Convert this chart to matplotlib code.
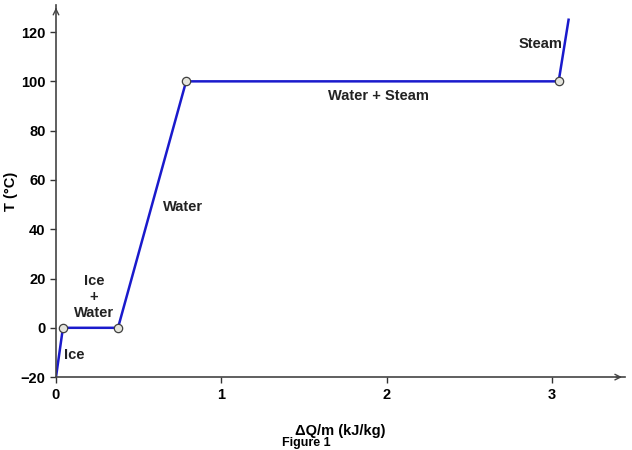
import matplotlib
matplotlib.use("Agg")
import matplotlib.pyplot as plt

# heating curve data
q = [0.0, 0.042, 0.375, 0.787, 3.04, 3.10]
temp = [-20, 0, 0, 100, 100, 125]
corner_q = [0.042, 0.375, 0.787, 3.04]
corner_t = [0, 0, 100, 100]

labels = ["Ice", "Ice\n+\nWater", "Water", "Water + Steam", "Steam"]
label_q = [0.11, 0.23, 0.77, 1.95, 2.93]
label_t = [-11, 12.5, 49, 94, 115]

xticks = [0, 1, 2, 3]
yticks = [-20, 0, 20, 40, 60, 80, 100, 120]

plt.rcParams['font.family'] = ['Liberation Sans', 'DejaVu Sans']

fig = plt.figure(figsize=(6.32, 4.5), dpi=100)
ax = fig.add_axes([0.0886, 0.162, 0.9, 0.827])

ax.plot(q, temp, color="#1a1acc", lw=1.8, zorder=2)
ax.scatter(corner_q, corner_t, s=36, facecolor="#e4e4dc", edgecolor="#404040",
           linewidth=0.9, zorder=3)

for s, x, y in zip(labels, label_q, label_t):
    ax.text(x, y, s, ha="center", va="center", fontsize=10.5, fontweight="bold",
            color="#222222", linespacing=1.15)

ax.set_xlim(0, 3.44)
ax.set_ylim(-20, 131)
ax.set_xticks(xticks)
ax.set_yticks(yticks)
ax.tick_params(direction="out", length=4, width=1, labelsize=10.5, colors="#333333")
for t in ax.get_xticklabels() + ax.get_yticklabels():
    t.set_fontweight("bold")
    t.set_color("black")

for s in ["top", "right"]:
    ax.spines[s].set_visible(False)
for s in ["left", "bottom"]:
    ax.spines[s].set_color("#444444")
    ax.spines[s].set_linewidth(1.2)

# arrow heads on axes
ax.annotate("", xy=(1.0, 0), xytext=(0.98, 0), xycoords="axes fraction",
            arrowprops=dict(arrowstyle="->", color="#444444", lw=1.0), annotation_clip=False)
ax.annotate("", xy=(0, 1.0), xytext=(0, 0.98), xycoords="axes fraction",
            arrowprops=dict(arrowstyle="->", color="#444444", lw=1.0), annotation_clip=False)

ax.set_ylabel("T (°C)", fontsize=10.5, fontweight="bold", labelpad=2)
ax.set_xlabel("ΔQ/m (kJ/kg)", fontsize=10.5, fontweight="bold", labelpad=16)

fig.text(0.485, 0.002, "Figure 1", ha="center", va="bottom", fontsize=9, fontweight="bold")

fig.savefig("out.png", dpi=100)
